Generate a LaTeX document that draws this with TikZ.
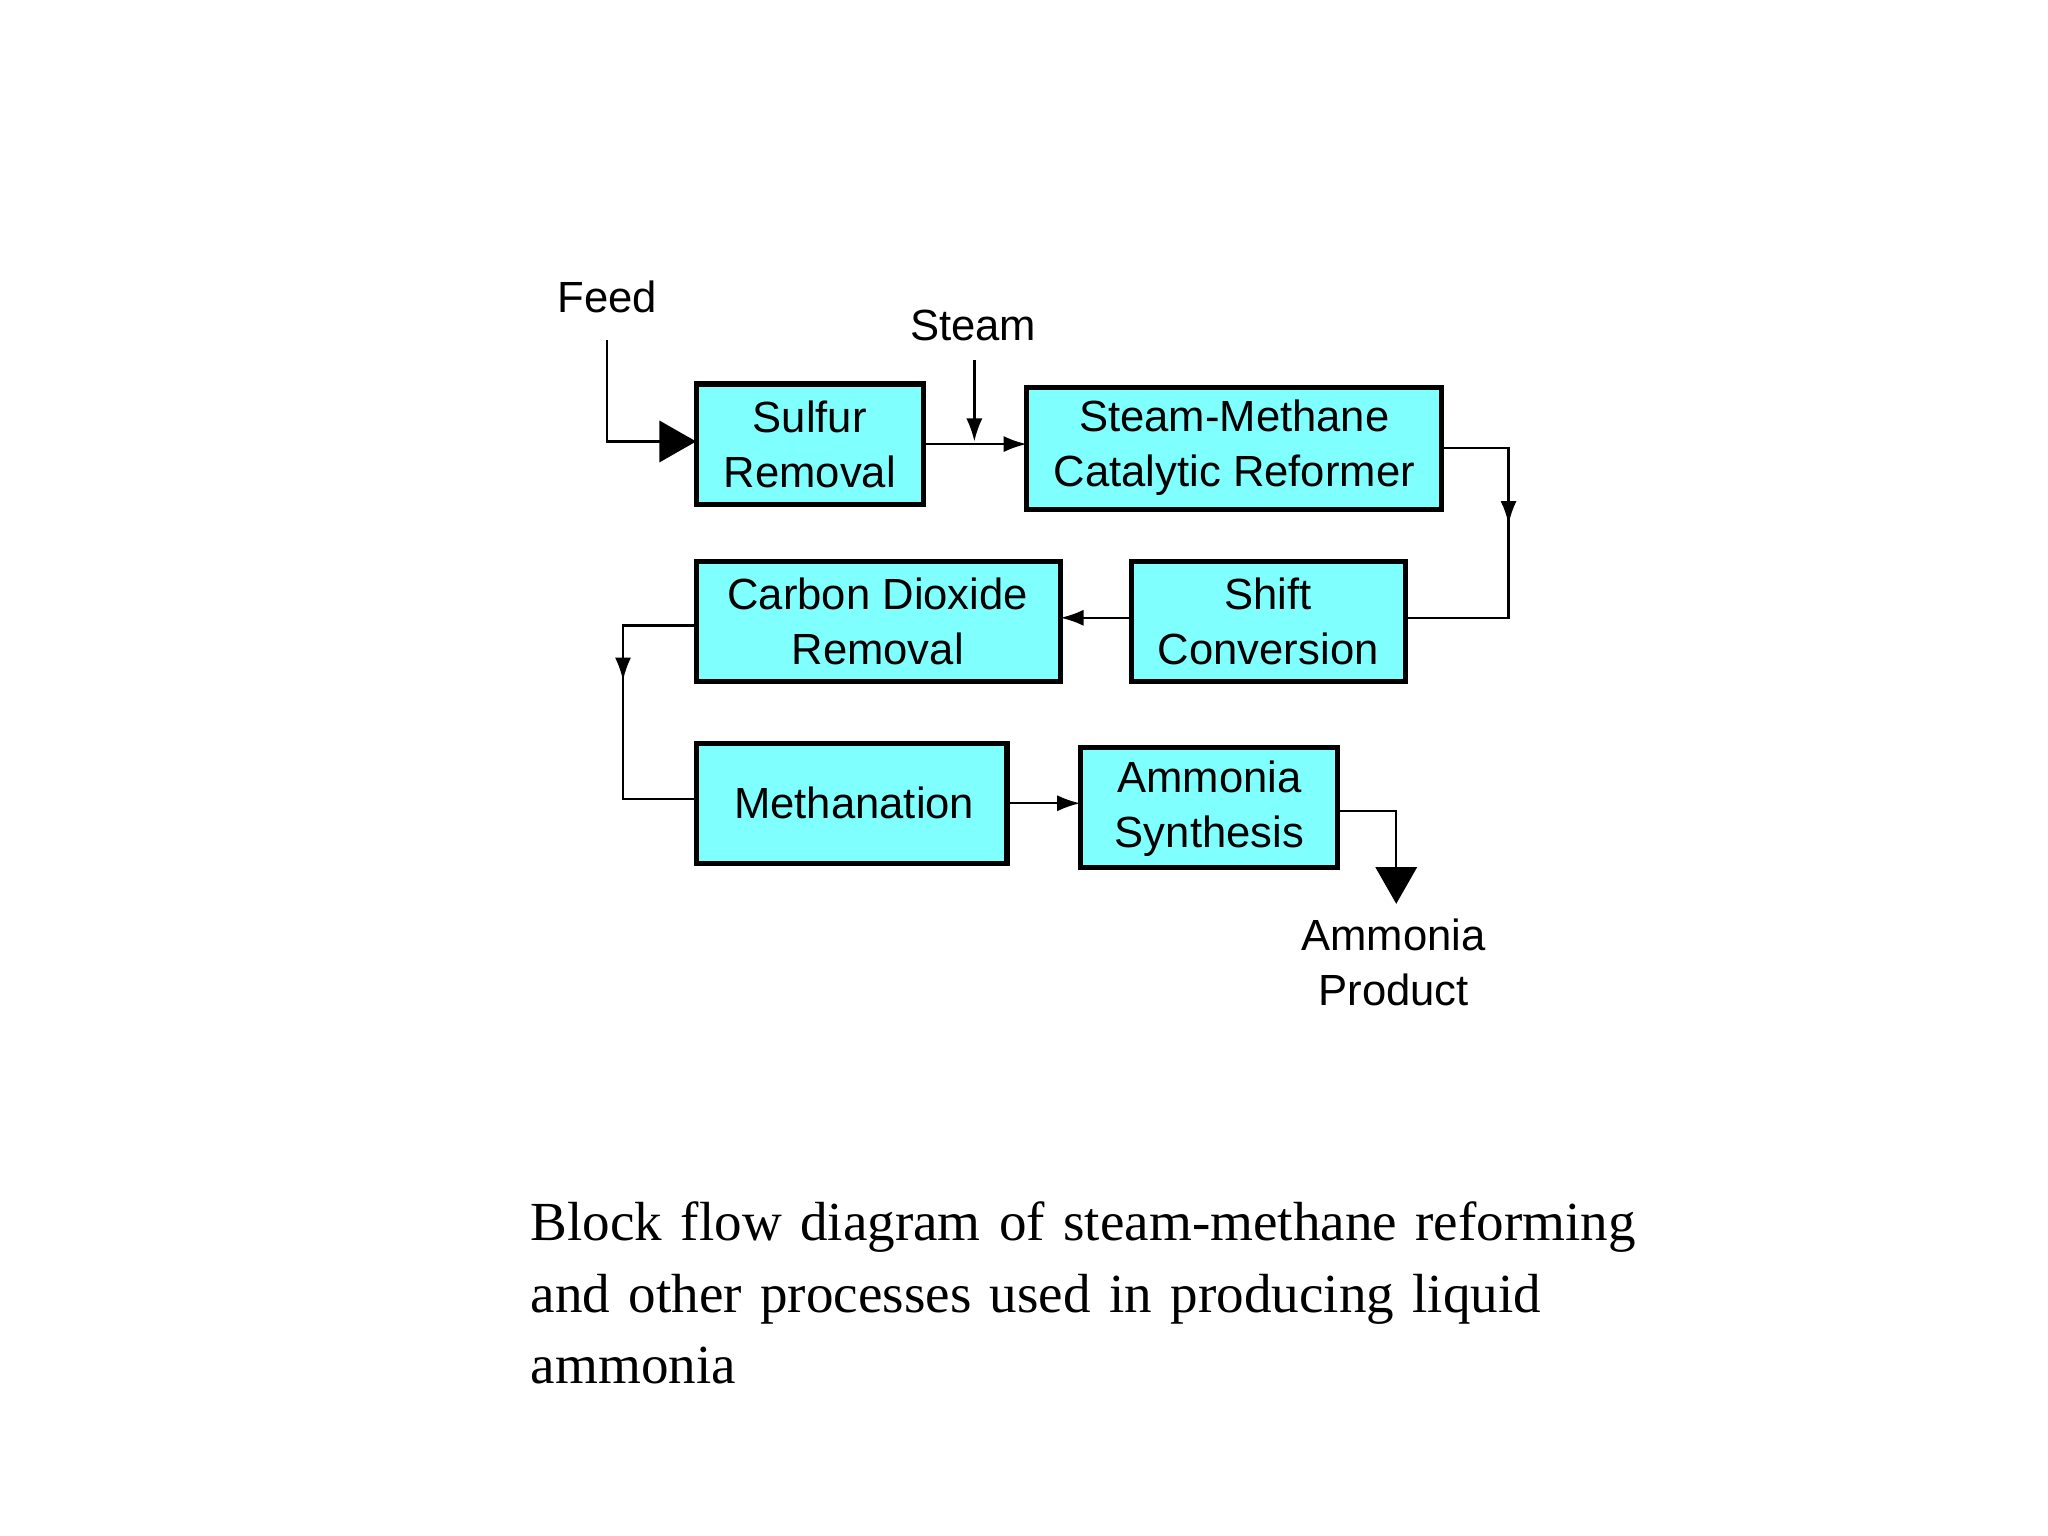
\documentclass[tikz,border=0pt]{standalone}
\usepackage{fontspec}
\setmainfont{Liberation Serif}
\newfontfamily\blocksf{Liberation Sans}
\usetikzlibrary{arrows.meta,decorations.markings}
\definecolor{blockcyan}{RGB}{128,255,255}
\tikzset{
  block/.style={line width=1.1pt,fill=blockcyan},
  flow/.style={line width=0.5pt,-{Latex[length=5pt,width=3.5pt]}},
  bigflow/.style={line width=0.5pt,-{Triangle[length=8pt,width=9pt]}},
  midflow/.style={line width=0.5pt,postaction={decorate},decoration={markings,
    mark=at position #1 with {\arrow{Latex[length=5pt,width=3.5pt]}}}},
  tag/.style={align=center,font=\blocksf\fontsize{9.5}{12}\selectfont}
}
\begin{document}
\begin{tikzpicture}[x=0.01cm,y=-0.01cm]
  \useasboundingbox (0,0) rectangle (1568,1176);

  % blocks
  \draw[block] (533,294) rectangle (707,386);
  \node (sulfur) [tag] at (620,340) {Sulfur\\Removal};
  \coordinate (sulfurW) at (533,338);
  \coordinate (sulfurE) at (707,340);

  \draw[block] (786,297) rectangle (1104,390);
  \node (smr) [tag] at (945,343) {Steam-Methane\\Catalytic Reformer};
  \coordinate (smrW) at (786,340);
  \coordinate (smrE) at (1104,343);

  \draw[block] (866,430) rectangle (1076,522);
  \node (shift) [tag] at (971,476) {Shift\\Conversion};
  \coordinate (shiftW) at (866,473);
  \coordinate (shiftE) at (1076,473);

  \draw[block] (533,430) rectangle (812,522);
  \node (co2) [tag] at (672,476) {Carbon Dioxide\\Removal};
  \coordinate (co2W) at (533,479);
  \coordinate (co2E) at (812,473);

  \draw[block] (533,569) rectangle (771,661);
  \node (meth) [tag] at (654,615) {Methanation};
  \coordinate (methW) at (533,612);
  \coordinate (methE) at (771,615);

  \draw[block] (827,572) rectangle (1024,664);
  \node (nh3) [tag] at (926,619) {Ammonia\\Synthesis};
  \coordinate (nh3W) at (827,615);
  \coordinate (nh3E) at (1024,621);

  % labels
  \node (feed) [tag] at (465,227) {Feed};
  \coordinate (feedS) at (465,260);
  \node (steam) [tag] at (745,249) {Steam};
  \coordinate (steamS) at (746,276);
  \coordinate (steamE) at (746,338);
  \node (prod) [tag] at (1067,737) {Ammonia\\Product};
  \coordinate (prodN) at (1069,692);

  % connectors
  \draw[bigflow] (feedS) |- (sulfurW);
  \draw[flow] (sulfurE) -- (smrW);
  \draw[flow] (steamS) -- (steamE);
  \draw[midflow=0.42] (smrE) -| (1155,473) -- (shiftE);
  \draw[flow] (shiftW) -- (co2E);
  \draw[midflow=0.4] (co2W) -| (477,612) -- (methW);
  \draw[flow] (methE) -- (nh3W);
  \draw[bigflow] (nh3E) -| (prodN);

  % caption
  \node (caption) [anchor=north west,text width=8.6cm,align=left,
    font=\fontsize{12}{15.5}\selectfont] at (394,908)
    {Block flow diagram of steam-methane reforming\\and other processes used in producing liquid\\ammonia};
\end{tikzpicture}
\end{document}
